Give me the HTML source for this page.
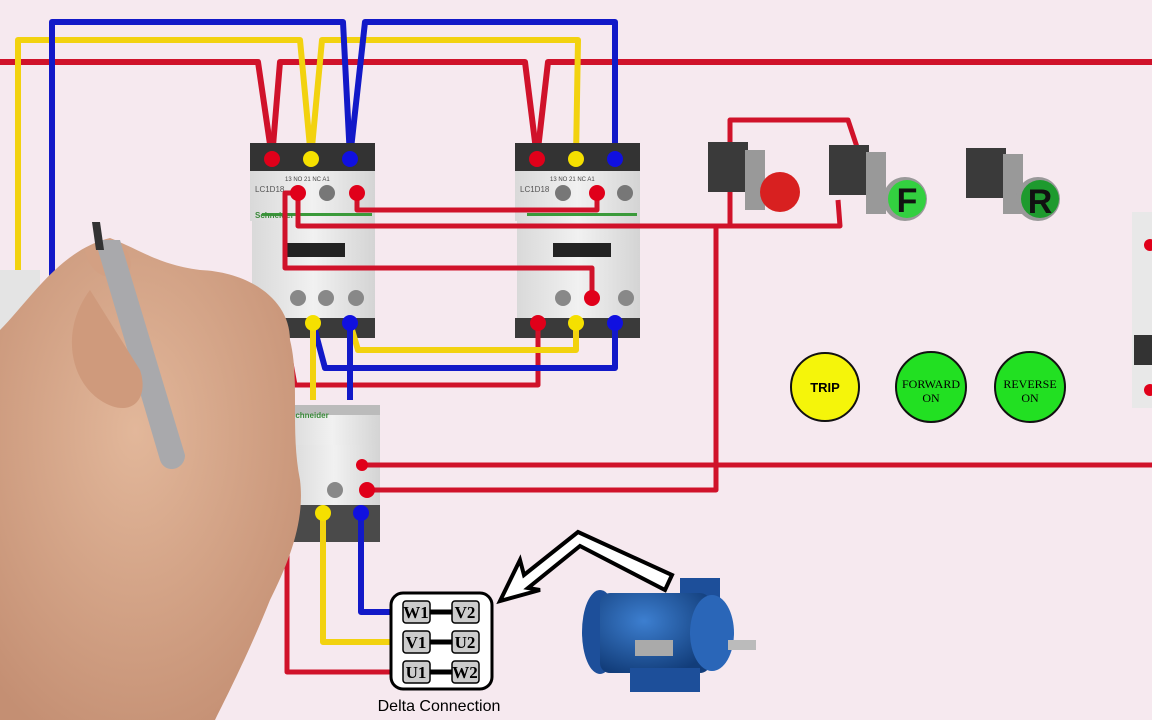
<!DOCTYPE html>
<html><head><meta charset="utf-8"><style>
html,body{margin:0;padding:0;background:#f6e9ef;}
svg{display:block;}
text{font-family:"Liberation Sans",sans-serif;}
text.s{font-family:"Liberation Serif",serif;}
</style></head><body>
<svg width="1152" height="720" viewBox="0 0 1152 720" xmlns="http://www.w3.org/2000/svg">
<rect width="1152" height="720" fill="#f6e9ef"/>
<defs>
<linearGradient id="body" x1="0" x2="1"><stop offset="0" stop-color="#d9d9d9"/><stop offset=".5" stop-color="#f1f1f1"/><stop offset="1" stop-color="#d4d4d4"/></linearGradient>
<radialGradient id="skin" cx=".45" cy=".4" r=".7"><stop offset="0" stop-color="#e2b79a"/><stop offset="1" stop-color="#c48f73"/></radialGradient>
<radialGradient id="mot" cx=".4" cy=".35" r=".7"><stop offset="0" stop-color="#3d7fd0"/><stop offset="1" stop-color="#123d7a"/></radialGradient>
</defs>

<g fill="none" stroke-width="6" stroke-linejoin="round">
<polyline stroke="#d0122a" points="0,62 258,62 272,158"/>
<polyline stroke="#d0122a" points="272,158 280,62 525,62 537,158"/>
<polyline stroke="#d0122a" points="537,158 548,62 1152,62"/>
<polyline stroke="#f2d20f" points="18,300 18,40 300,40 311,158"/>
<polyline stroke="#f2d20f" points="311,158 322,40 578,40 576,158"/>
<polyline stroke="#1219c8" points="52,300 52,22 343,22 350,158"/>
<polyline stroke="#1219c8" points="350,158 365,22 615,22 615,158"/>
</g>

<g>
<rect x="250" y="143" width="125" height="28" fill="#333"/>
<rect x="250" y="171" width="125" height="50" fill="url(#body)"/>
<rect x="252" y="221" width="123" height="98" fill="url(#body)"/>
<rect x="287" y="243" width="58" height="14" fill="#222"/>
<rect x="262" y="213" width="110" height="3" fill="#3a9a3a"/>
<rect x="250" y="318" width="125" height="20" fill="#3a3a3a"/>
<circle cx="298" cy="298" r="8" fill="#888"/><circle cx="326" cy="298" r="8" fill="#888"/><circle cx="356" cy="298" r="8" fill="#888"/>
<text x="255" y="192" font-size="8" fill="#555">LC1D18</text>
<text x="255" y="218" font-size="8" fill="#3a8a3a" font-weight="bold">Schneider</text>
<text x="285" y="181" font-size="6" fill="#444">13  NO  21  NC      A1</text>
<circle cx="327" cy="193" r="8" fill="#777"/>

<rect x="515" y="143" width="125" height="28" fill="#333"/>
<rect x="515" y="171" width="125" height="50" fill="url(#body)"/>
<rect x="517" y="221" width="123" height="98" fill="url(#body)"/>
<rect x="553" y="243" width="58" height="14" fill="#222"/>
<rect x="527" y="213" width="110" height="3" fill="#3a9a3a"/>
<rect x="515" y="318" width="125" height="20" fill="#3a3a3a"/>
<circle cx="563" cy="298" r="8" fill="#888"/><circle cx="626" cy="298" r="8" fill="#888"/>
<circle cx="563" cy="193" r="8" fill="#777"/><circle cx="625" cy="193" r="8" fill="#777"/>
<text x="520" y="192" font-size="8" fill="#555">LC1D18</text>
<text x="550" y="181" font-size="6" fill="#444">13  NO  21  NC      A1</text>
</g>

<rect x="285" y="405" width="95" height="40" fill="url(#body)"/>
<rect x="285" y="405" width="95" height="10" fill="#bbb"/>
<text x="290" y="418" font-size="8" fill="#3a8a3a" font-weight="bold">Schneider</text>
<rect x="288" y="445" width="92" height="60" fill="url(#body)"/>
<rect x="285" y="505" width="95" height="37" fill="#4a4a4a"/>

<g fill="none" stroke="#d0122a" stroke-width="5" stroke-linejoin="round">
<polyline points="298,193 285,193 285,268 592,268 592,298"/>
<polyline points="357,193 357,210 597,210 597,193"/>
<polyline points="298,193 298,226 840,226 838,200"/>
<polyline points="716,226 716,490 365,490"/>
<polyline points="730,226 730,120 848,120 858,150"/>
<polyline points="360,465 1152,465"/>
<polyline points="285,330 295,385 538,385 538,323"/>
<polyline points="287,540 287,672 405,672"/>
</g>
<g fill="none" stroke-width="6" stroke-linejoin="round">
<polyline stroke="#f2d20f" points="350,323 358,350 576,350 576,323"/>
<polyline stroke="#1219c8" points="313,323 325,368 615,368 615,323"/>
<polyline stroke="#f2d20f" points="313,323 313,400"/>
<polyline stroke="#1219c8" points="350,323 350,400"/>
<polyline stroke="#1219c8" points="361,513 361,612 405,612"/>
<polyline stroke="#f2d20f" points="323,513 323,642 405,642"/>
</g>

<g>
<circle cx="272" cy="159" r="8" fill="#e0001a"/><circle cx="311" cy="159" r="8" fill="#f5e000"/><circle cx="350" cy="159" r="8" fill="#1010e0"/>
<circle cx="537" cy="159" r="8" fill="#e0001a"/><circle cx="576" cy="159" r="8" fill="#f5e000"/><circle cx="615" cy="159" r="8" fill="#1010e0"/>
<circle cx="298" cy="193" r="8" fill="#e0001a"/><circle cx="357" cy="193" r="8" fill="#e0001a"/><circle cx="597" cy="193" r="8" fill="#e0001a"/>
<circle cx="592" cy="298" r="8" fill="#e0001a"/>
<circle cx="313" cy="323" r="8" fill="#f5e000"/><circle cx="350" cy="323" r="8" fill="#1010e0"/>
<circle cx="538" cy="323" r="8" fill="#e0001a"/><circle cx="576" cy="323" r="8" fill="#f5e000"/><circle cx="615" cy="323" r="8" fill="#1010e0"/>
<circle cx="323" cy="513" r="8" fill="#f5e000"/><circle cx="361" cy="513" r="8" fill="#1010e0"/>
<circle cx="335" cy="490" r="8" fill="#888"/><circle cx="367" cy="490" r="8" fill="#e0001a"/>
<circle cx="362" cy="465" r="6" fill="#e0001a"/>
<circle cx="18" cy="300" r="6" fill="#f5e000"/>
</g>

<g>
<rect x="708" y="142" width="40" height="50" fill="#3a3a3a"/><rect x="745" y="150" width="20" height="60" fill="#999"/>
<circle cx="780" cy="192" r="20" fill="#d82020"/>
<rect x="829" y="145" width="40" height="50" fill="#3a3a3a"/><rect x="866" y="152" width="20" height="62" fill="#999"/>
<circle cx="905" cy="199" r="22" fill="#999"/><circle cx="907" cy="199" r="19" fill="#33d040"/>
<text x="907" y="212" font-size="34" font-weight="bold" text-anchor="middle" fill="#111">F</text>
<rect x="966" y="148" width="40" height="50" fill="#3a3a3a"/><rect x="1003" y="154" width="20" height="60" fill="#999"/>
<circle cx="1038" cy="199" r="22" fill="#999"/><circle cx="1040" cy="199" r="19" fill="#1e9a2e"/>
<text x="1040" y="213" font-size="34" font-weight="bold" text-anchor="middle" fill="#111">R</text>
</g>

<circle cx="825" cy="387" r="34" fill="#f5f50a" stroke="#111" stroke-width="2"/>
<text x="825" y="392" font-size="13" font-weight="bold" text-anchor="middle">TRIP</text>
<circle cx="931" cy="387" r="35" fill="#22e022" stroke="#111" stroke-width="2"/>
<text class="s" x="931" y="388" font-size="12" text-anchor="middle">FORWARD</text>
<text class="s" x="931" y="402" font-size="12" text-anchor="middle">ON</text>
<circle cx="1030" cy="387" r="35" fill="#22e022" stroke="#111" stroke-width="2"/>
<text class="s" x="1030" y="388" font-size="12" text-anchor="middle">REVERSE</text>
<text class="s" x="1030" y="402" font-size="12" text-anchor="middle">ON</text>

<rect x="1132" y="212" width="20" height="196" fill="#e8e8e8"/>
<rect x="1134" y="335" width="18" height="30" fill="#333"/>
<circle cx="1150" cy="245" r="6" fill="#e0001a"/><circle cx="1150" cy="390" r="6" fill="#e0001a"/>
<rect x="0" y="270" width="40" height="70" fill="#e4e4e4"/>

<rect x="391" y="593" width="101" height="96" rx="12" fill="#fff" stroke="#000" stroke-width="3"/>
<g stroke="#000" stroke-width="5"><line x1="425" y1="612" x2="455" y2="612"/><line x1="425" y1="642" x2="455" y2="642"/><line x1="425" y1="672" x2="455" y2="672"/></g>
<g fill="#ccc" stroke="#000" stroke-width="1.5">
<rect x="403" y="601" width="27" height="22" rx="3"/><rect x="452" y="601" width="27" height="22" rx="3"/>
<rect x="403" y="631" width="27" height="22" rx="3"/><rect x="452" y="631" width="27" height="22" rx="3"/>
<rect x="403" y="661" width="27" height="22" rx="3"/><rect x="452" y="661" width="27" height="22" rx="3"/>
</g>
<g font-size="17" font-weight="bold" text-anchor="middle">
<text class="s" x="416" y="618">W1</text><text class="s" x="465" y="618">V2</text>
<text class="s" x="416" y="648">V1</text><text class="s" x="465" y="648">U2</text>
<text class="s" x="416" y="678">U1</text><text class="s" x="465" y="678">W2</text>
</g>
<text x="439" y="711" font-size="16" text-anchor="middle">Delta Connection</text>

<polygon points="500,601 520,560 524,575 578,532 672,575 665,590 580,546 528,588 540,590" fill="#fff" stroke="#000" stroke-width="4" stroke-linejoin="miter"/>

<rect x="680" y="578" width="40" height="22" fill="#1d4f9a"/>
<ellipse cx="600" cy="632" rx="18" ry="42" fill="#1d4f9a"/>
<rect x="600" y="593" width="110" height="80" rx="10" fill="url(#mot)"/>
<ellipse cx="712" cy="633" rx="22" ry="38" fill="#2a66b8"/>
<rect x="728" y="640" width="28" height="10" fill="#bbb"/>
<rect x="630" y="668" width="70" height="24" fill="#1d4f9a"/>
<rect x="635" y="640" width="38" height="16" fill="#aaa"/>

<path d="M0,330 C30,300 60,250 110,238 C140,250 160,265 200,270 C250,272 290,300 290,340 C300,380 290,430 300,480 C305,520 290,560 270,600 C250,650 230,690 215,720 L0,720 Z" fill="url(#skin)"/>
<path d="M85,250 C110,235 135,245 130,270 C110,285 90,275 85,250 Z" fill="#d3a083"/>
<path d="M95,240 L120,240 L185,455 C185,470 165,475 160,460 Z" fill="#a9a9ac"/>
<path d="M92,222 L100,222 L104,250 L96,250 Z" fill="#333"/>
<path d="M90,290 C60,330 70,380 100,400 C130,420 150,400 140,370 Z" fill="#cf9a7c"/>
</svg>
</body></html>
